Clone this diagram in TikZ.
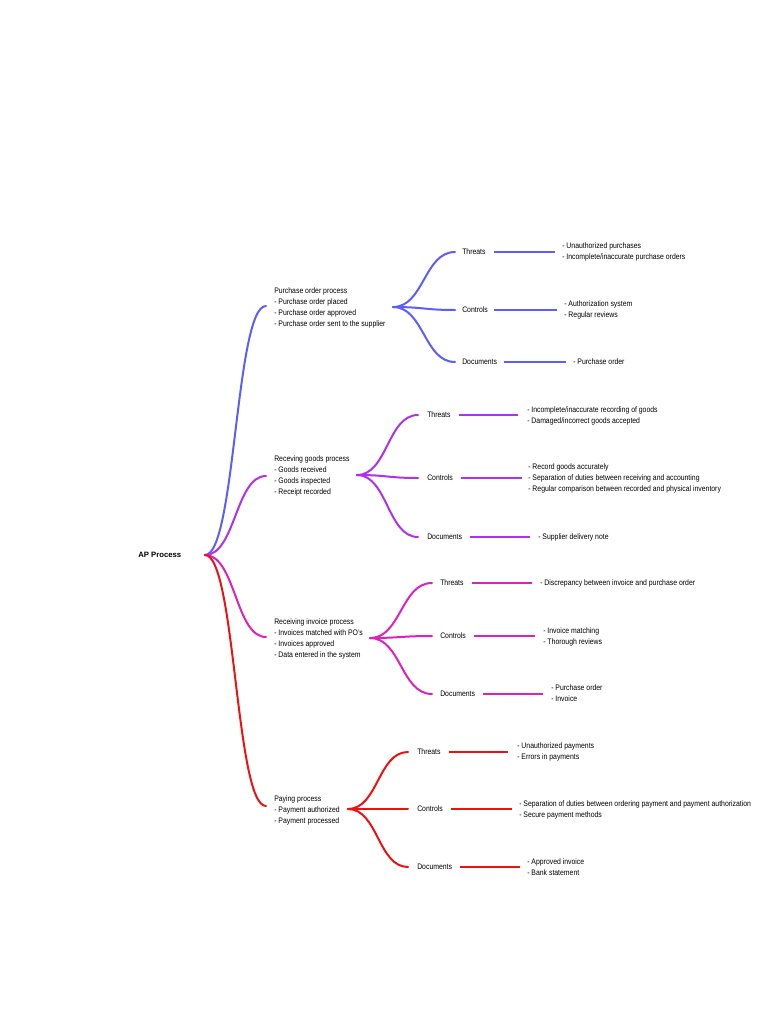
\documentclass[tikz,border=0pt]{standalone}
\usepackage{fontspec}
\setmainfont[FakeStretch=0.86]{Liberation Sans}
\newfontfamily\rootfont{Liberation Sans}
\usetikzlibrary{calc}
\definecolor{cblue}{HTML}{5C5CFF}
\definecolor{cpurp}{HTML}{B030F0}
\definecolor{cmag}{HTML}{DD22BB}
\definecolor{cred}{HTML}{EE1111}
\tikzset{
  txt/.style={anchor=west,inner sep=0pt,align=left,font=\fontsize{6pt}{8.25pt}\selectfont},
  root/.style={anchor=west,inner sep=0pt,font=\rootfont\fontsize{5.8pt}{7pt}\selectfont\bfseries},
  curve/.style={line width=1.5pt,line cap=round},
  thickln/.style={line width=2.2pt},
  thinln/.style={line width=0.9pt},
}
\begin{document}
\begin{tikzpicture}[x=0.75pt,y=-0.75pt]
\useasboundingbox (0,0) rectangle (768,1024);
% root
\node[root] (ap) at (138,555) {AP Process};
\coordinate (hub) at (205,555);
% level 1 texts
\node[txt] (po) at (274,307.5) {Purchase order process\\- Purchase order placed\\- Purchase order approved\\- Purchase order sent to the supplier};
\node[txt] (gd) at (274,475.5) {Receving goods process\\- Goods received\\- Goods inspected\\- Receipt recorded};
\node[txt] (iv) at (274,639) {Receiving invoice process\\- Invoices matched with PO's\\- Invoices approved\\- Data entered in the system};
\node[txt] (py) at (274,810) {Paying process\\- Payment authorized\\- Payment processed};
\coordinate (poin) at (266,306);
\coordinate (gdin) at (266,476);
\coordinate (ivin) at (266,637);
\coordinate (pyin) at (266,806);
\coordinate (poh) at (393,307);
\coordinate (gdh) at (357,475);
\coordinate (ivh) at (370,638);
\coordinate (pyh) at (348,809);
% main curves
\draw[curve,cblue] (hub) .. controls (235.5,555) and (235.5,306) .. (poin);
\draw[curve,cpurp] (hub) .. controls (235.5,555) and (235.5,476) .. (gdin);
\draw[curve,cmag] (hub) .. controls (235.5,555) and (235.5,637) .. (ivin);
\draw[curve,cred] (hub) .. controls (235.5,555) and (235.5,806) .. (pyin);

% ---------- Purchase order branch
\node[txt] (pot) at (462,252) {Threats};
\node[txt] (poc) at (462,310) {Controls};
\node[txt] (pod) at (462,362) {Documents};
\node[txt] (potd) at (562,252) {- Unauthorized purchases\\- Incomplete/inaccurate purchase orders};
\node[txt] (pocd) at (564,310) {- Authorization system\\- Regular reviews};
\node[txt] (podd) at (573,362) {- Purchase order};
\coordinate (potin) at (455,252);
\coordinate (pocin) at (455,310);
\coordinate (podin) at (455,362);
\draw[curve,cblue] (poh) .. controls (424,307) and (424,252) .. (potin);
\draw[curve,cblue] (poh) .. controls (424,307) and (424,310) .. (pocin);
\draw[curve,cblue] (poh) .. controls (424,307) and (424,362) .. (podin);
\draw[thickln,cblue] ($(pot.east)+(8,0)$) -- ($(pot.east -| potd.west)+(-7,0)$);
\draw[thickln,cblue] ($(poc.east)+(6,0)$) -- ($(poc.east -| pocd.west)+(-7,0)$);
\draw[thickln,cblue] ($(pod.east)+(7,0)$) -- ($(pod.east -| podd.west)+(-7,0)$);

% ---------- Receiving goods branch
\node[txt] (gdt) at (427,415) {Threats};
\node[txt] (gdc) at (427,478) {Controls};
\node[txt] (gdd) at (427,537) {Documents};
\node[txt] (gdtd) at (527,415.5) {- Incomplete/inaccurate recording of goods\\- Damaged/incorrect goods accepted};
\node[txt] (gdcd) at (528,478.5) {- Record goods accurately\\- Separation of duties between receiving and accounting\\- Regular comparison between recorded and physical inventory};
\node[txt] (gddd) at (538,537) {- Supplier delivery note};
\coordinate (gdtin) at (418,415);
\coordinate (gdcin) at (418,478);
\coordinate (gddin) at (418,537);
\draw[curve,cpurp] (gdh) .. controls (387.5,475) and (387.5,415) .. (gdtin);
\draw[curve,cpurp] (gdh) .. controls (387.5,475) and (387.5,478) .. (gdcin);
\draw[curve,cpurp] (gdh) .. controls (387.5,475) and (387.5,537) .. (gddin);
\draw[thickln,cpurp] ($(gdt.east)+(8,0)$) -- ($(gdt.east -| gdtd.west)+(-9,0)$);
\draw[thickln,cpurp] ($(gdc.east)+(8,0)$) -- ($(gdc.east -| gdcd.west)+(-6,0)$);
\draw[thinln,cpurp] ($(gdd.east)+(8,0)$) -- ($(gdd.east -| gddd.west)+(-8,0)$);

% ---------- Receiving invoice branch
\node[txt] (ivt) at (440,583) {Threats};
\node[txt] (ivc) at (440,636) {Controls};
\node[txt] (ivd) at (440,694) {Documents};
\node[txt] (ivtd) at (540,583) {- Discrepancy between invoice and purchase order};
\node[txt] (ivcd) at (543,636.5) {- Invoice matching\\- Thorough reviews};
\node[txt] (ivdd) at (551,693.5) {- Purchase order\\- Invoice};
\coordinate (ivtin) at (432,583);
\coordinate (ivcin) at (432,636);
\coordinate (ivdin) at (432,694);
\draw[curve,cmag] (ivh) .. controls (401,638) and (401,583) .. (ivtin);
\draw[curve,cmag] (ivh) .. controls (401,638) and (401,636) .. (ivcin);
\draw[curve,cmag] (ivh) .. controls (401,638) and (401,694) .. (ivdin);
\draw[thinln,cmag] ($(ivt.east)+(8,0)$) -- ($(ivt.east -| ivtd.west)+(-8,0)$);
\draw[thinln,cmag] ($(ivc.east)+(8,0)$) -- ($(ivc.east -| ivcd.west)+(-8,0)$);
\draw[thickln,cmag] ($(ivd.east)+(8,0)$) -- ($(ivd.east -| ivdd.west)+(-8,0)$);

% ---------- Paying branch
\node[txt] (pyt) at (417,752) {Threats};
\node[txt] (pyc) at (417,809) {Controls};
\node[txt] (pyd) at (417,867) {Documents};
\node[txt] (pytd) at (517,751.5) {- Unauthorized payments\\- Errors in payments};
\node[txt] (pycd) at (519,809.5) {- Separation of duties between ordering payment and payment authorization\\- Secure payment methods};
\node[txt] (pydd) at (527,867.5) {- Approved invoice\\- Bank statement};
\coordinate (pytin) at (408,752);
\coordinate (pycin) at (408,809);
\coordinate (pydin) at (408,867);
\draw[curve,cred] (pyh) .. controls (378,809) and (378,752) .. (pytin);
\draw[curve,cred] (pyh) .. controls (378,809) and (378,809) .. (pycin);
\draw[curve,cred] (pyh) .. controls (378,809) and (378,867) .. (pydin);
\draw[thickln,cred] ($(pyt.east)+(8,0)$) -- ($(pyt.east -| pytd.west)+(-9,0)$);
\draw[thickln,cred] ($(pyc.east)+(8,0)$) -- ($(pyc.east -| pycd.west)+(-7,0)$);
\draw[thickln,cred] ($(pyd.east)+(8,0)$) -- ($(pyd.east -| pydd.west)+(-7,0)$);
\end{tikzpicture}
\end{document}
